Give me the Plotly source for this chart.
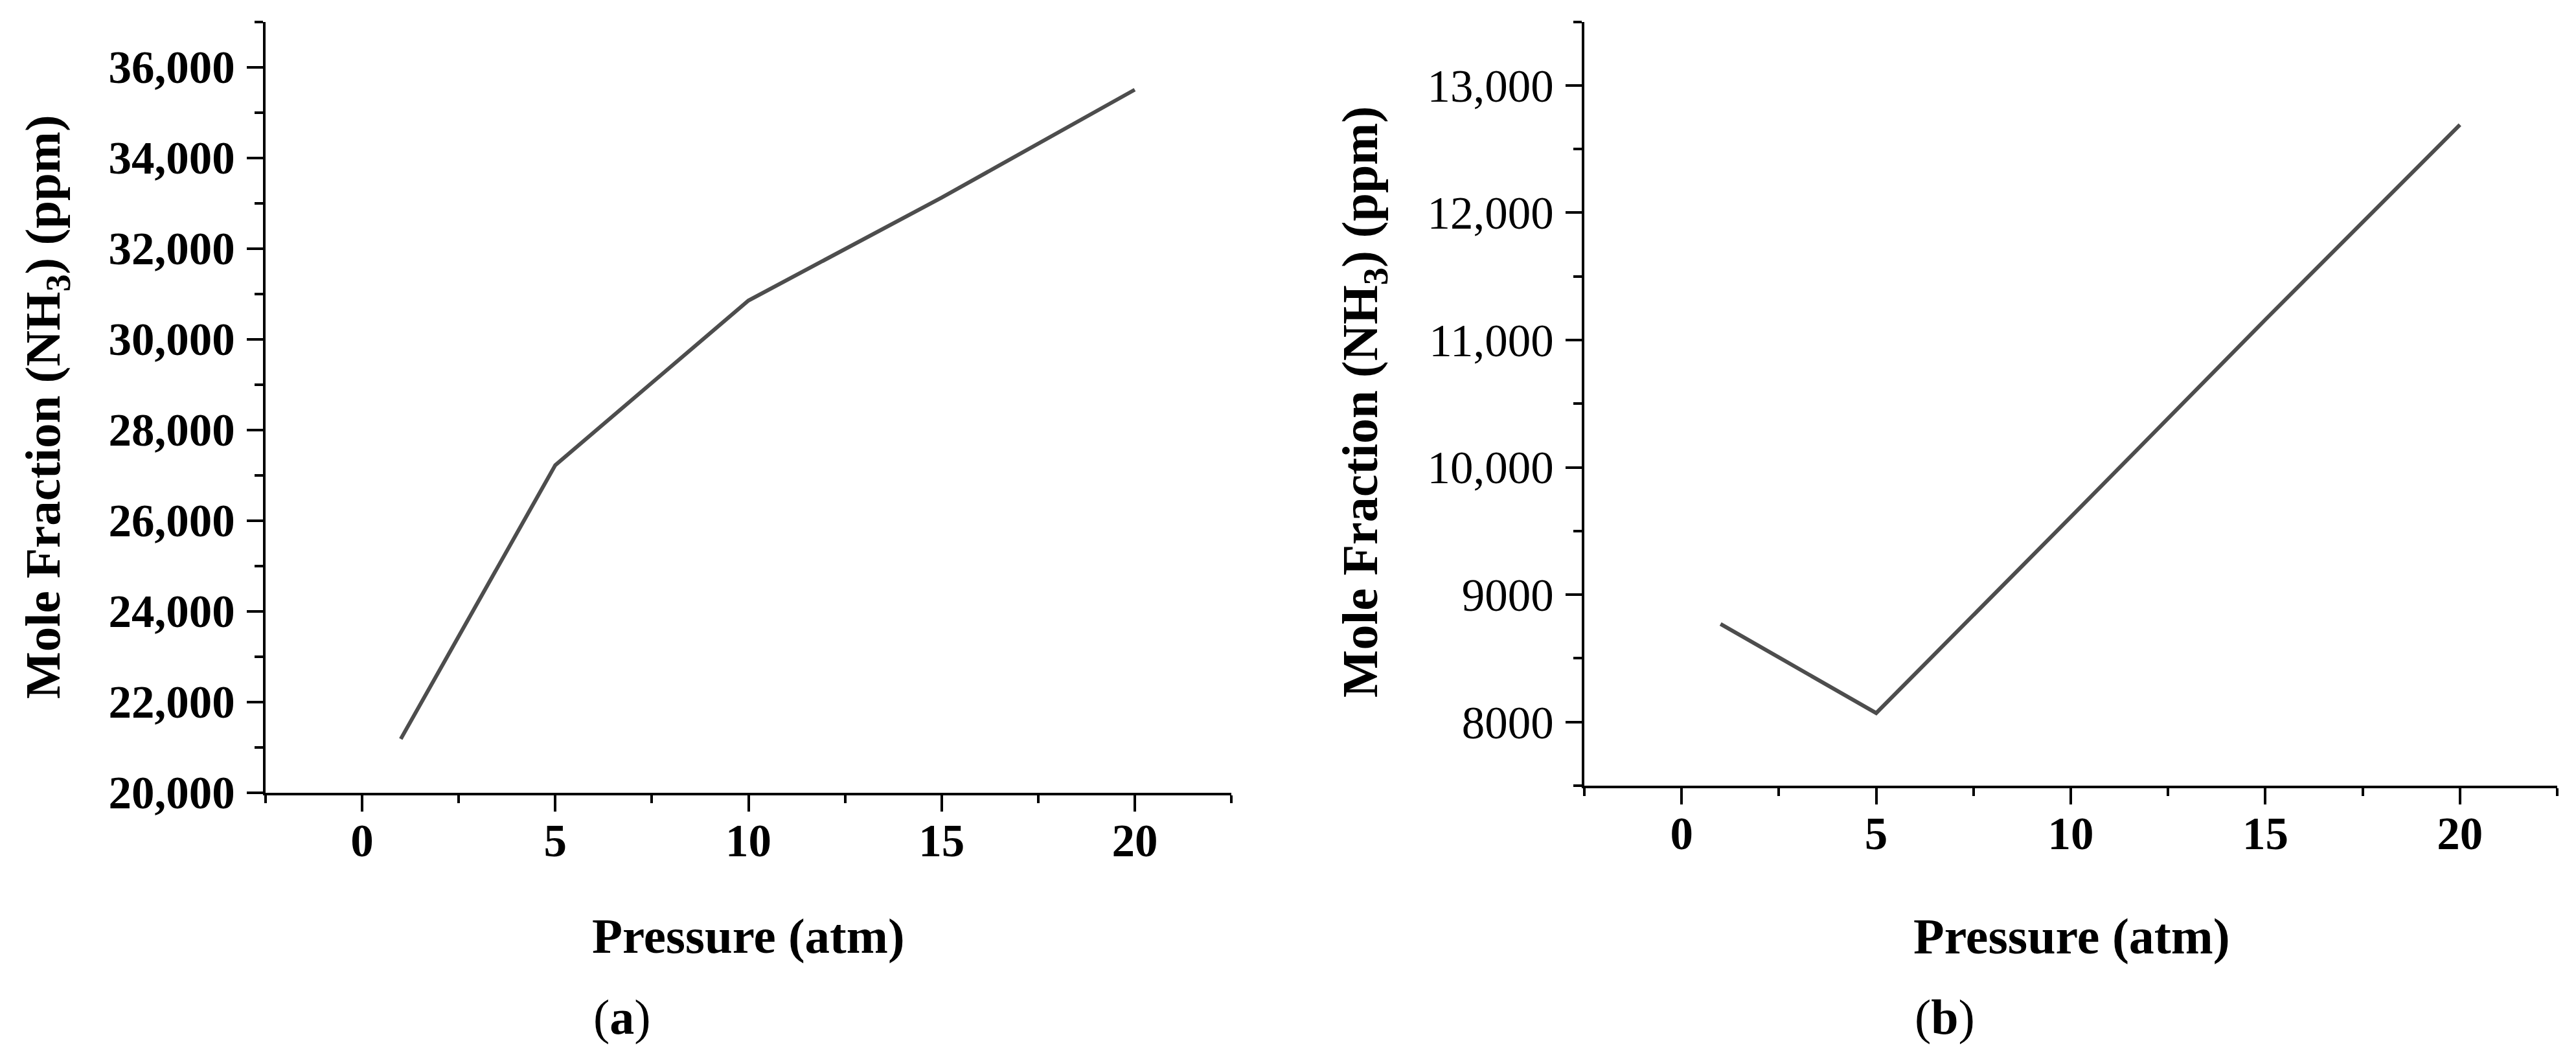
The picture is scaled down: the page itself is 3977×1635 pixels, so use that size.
import plotly.graph_objects as go

# ---- data ----
pressure_a = [1, 5, 10, 15, 20]
nh3_a = [21180, 27220, 30850, 33120, 35500]

pressure_b = [1, 5, 10, 15, 20]
nh3_b = [8770, 8070, 9610, 11160, 12690]

x_tickvals = [0, 5, 10, 15, 20]
x_ticktext = ["0", "5", "10", "15", "20"]

ya_tickvals = [20000, 22000, 24000, 26000, 28000, 30000, 32000, 34000, 36000]
ya_ticktext = ["20,000", "22,000", "24,000", "26,000", "28,000", "30,000", "32,000", "34,000", "36,000"]

yb_tickvals = [8000, 9000, 10000, 11000, 12000, 13000]
yb_ticktext = ["8000", "9000", "10,000", "11,000", "12,000", "13,000"]

y_title = "Mole Fraction (NH<sub>3</sub>) (ppm)"
x_title = "Pressure (atm)"

W, H = 3977, 1635
FONT = "Liberation Serif"
LINE_COLOR = "#4d4d4d"

fig = go.Figure()
fig.add_trace(go.Scatter(x=pressure_a, y=nh3_a, mode="lines",
                         line=dict(color=LINE_COLOR, width=6),
                         xaxis="x", yaxis="y", showlegend=False))
fig.add_trace(go.Scatter(x=pressure_b, y=nh3_b, mode="lines",
                         line=dict(color=LINE_COLOR, width=6),
                         xaxis="x2", yaxis="y2", showlegend=False))

def px_x(p):
    return p / W

def px_y(p):
    return 1 - p / H

common_axis = dict(showline=True, linecolor="black", linewidth=4, showgrid=False,
                   zeroline=False, ticks="outside", ticklen=25, tickwidth=4,
                   tickcolor="black", mirror=False, automargin=False)

bold_tick = dict(family=FONT, size=71, color="black", weight="bold")
reg_tick = dict(family=FONT, size=71, color="black")

fig.update_layout(
    template="none",
    autosize=False,
    width=W, height=H,
    margin=dict(l=0, r=0, t=0, b=0, pad=0),
    paper_bgcolor="white", plot_bgcolor="white",
    xaxis=dict(domain=[px_x(410), px_x(1901)], range=[-2.5, 22.5], anchor="y",
               tickvals=x_tickvals, ticktext=x_ticktext, tickfont=bold_tick,
               ticklabelstandoff=-16,
               minor=dict(dtick=2.5, tick0=0, ticks="outside", ticklen=12, tickwidth=4, tickcolor="black"),
               **common_axis),
    yaxis=dict(domain=[px_y(1223.5), px_y(33.5)], range=[20000, 37000], anchor="x",
               tickvals=ya_tickvals, ticktext=ya_ticktext, tickfont=bold_tick,
               ticklabelstandoff=4,
               minor=dict(dtick=1000, tick0=0, ticks="outside", ticklen=13, tickwidth=4, tickcolor="black"),
               **common_axis),
    xaxis2=dict(domain=[px_x(2446), px_x(3948)], range=[-2.5, 22.5], anchor="y2",
                tickvals=x_tickvals, ticktext=x_ticktext, tickfont=bold_tick,
                ticklabelstandoff=-16,
                minor=dict(dtick=2.5, tick0=0, ticks="outside", ticklen=12, tickwidth=4, tickcolor="black"),
                **common_axis),
    yaxis2=dict(domain=[px_y(1213), px_y(33.5)], range=[7500, 13500], anchor="x2",
                tickvals=yb_tickvals, ticktext=yb_ticktext, tickfont=reg_tick,
                ticklabelstandoff=4,
                minor=dict(dtick=500, tick0=0, ticks="outside", ticklen=13, tickwidth=4, tickcolor="black"),
                **common_axis),
)

title_font_a = dict(family=FONT, size=77, color="black", weight="bold")
title_font_b = dict(family=FONT, size=78, color="black", weight="bold")

annotations = [
    dict(text=y_title, x=px_x(72), y=px_y(628), xref="paper", yref="paper",
         textangle=-90, showarrow=False, xanchor="center", yanchor="middle", font=title_font_a),
    dict(text=y_title, x=px_x(2105), y=px_y(621), xref="paper", yref="paper",
         textangle=-90, showarrow=False, xanchor="center", yanchor="middle", font=title_font_b),
    dict(text=x_title, x=px_x(1155), y=px_y(1445), xref="paper", yref="paper",
         showarrow=False, xanchor="center", yanchor="middle", font=title_font_a),
    dict(text=x_title, x=px_x(3198), y=px_y(1445), xref="paper", yref="paper",
         showarrow=False, xanchor="center", yanchor="middle", font=title_font_b),
    dict(text="(<b>a</b>)", x=px_x(960), y=px_y(1570), xref="paper", yref="paper",
         showarrow=False, xanchor="center", yanchor="middle",
         font=dict(family=FONT, size=76, color="black")),
    dict(text="(<b>b</b>)", x=px_x(3002), y=px_y(1570), xref="paper", yref="paper",
         showarrow=False, xanchor="center", yanchor="middle",
         font=dict(family=FONT, size=76, color="black")),
]
fig.update_layout(annotations=annotations)

fig.write_html("out.html")
